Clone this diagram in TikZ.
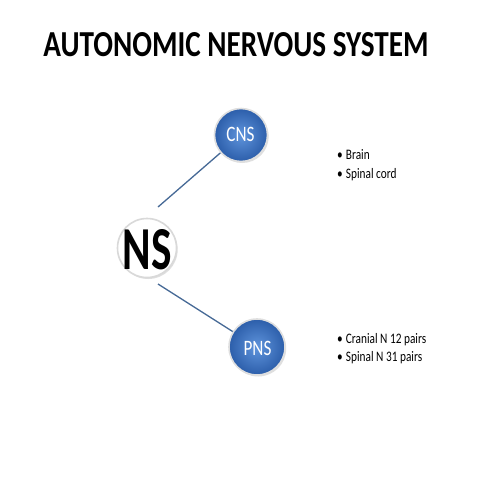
\documentclass[tikz,border=0pt]{standalone}
\usepackage{fontspec}
\setmainfont{Carlito}
\usetikzlibrary{shadows}
\definecolor{balllight}{RGB}{95,148,220}
\definecolor{balldark}{RGB}{44,94,170}
\definecolor{linkcol}{RGB}{70,105,150}
\newcommand{\condensed}[1]{\scalebox{0.78}[1]{#1}}
\tikzset{
  blueball/.style={circle, draw=gray!25, line width=1.6pt, inner sep=0pt,
    minimum size=#1, shading=radial, inner color=balllight, outer color=balldark,
    drop shadow={opacity=0.25, shadow xshift=1.2pt, shadow yshift=-1.5pt}},
  balllabel/.style={inner sep=0pt, text=white, font=\fontsize{22}{22}\selectfont},
  whiteball/.style={circle, draw=gray!30, line width=1.6pt, fill=white, inner sep=0pt,
    minimum size=#1, drop shadow={opacity=0.25, shadow xshift=1.2pt, shadow yshift=-1.5pt}},
  link/.style={draw=linkcol, line width=1.3pt},
  bullettext/.style={anchor=base west, inner sep=0pt, font=\fontsize{14.5}{14.5}\selectfont},
}
\begin{document}
\begin{tikzpicture}[x=1pt,y=-1pt]
\useasboundingbox (0,0) rectangle (480,480);
\fill[white] (0,0) rectangle (480,480);

\node[inner sep=0pt] (title) at (236,44.5) {\resizebox{385pt}{24pt}{\bfseries AUTONOMIC NERVOUS SYSTEM}};

\node[whiteball=59pt] (ns) at (147,248) {};
\node[inner sep=0pt] (nstext) at (147.5,250) {\resizebox{49pt}{40pt}{\bfseries NS}};

\node[blueball=53pt] (cns) at (241,135) {};
\node[balllabel] (cnstext) at (240.5,134.5) {\condensed{CNS}};
\node[blueball=56pt] (pns) at (257,347) {};
\node[balllabel] (pnstext) at (257.5,348) {\condensed{PNS}};

\coordinate (c1) at (158,207);
\coordinate (c2) at (158,284);
\draw[link] (c1) -- (cns);
\draw[link] (c2) -- (pns);

\node[bullettext] (b1) at (337,159.5) {\condensed{\textbullet\hspace{4pt}Brain}};
\node[bullettext] (b2) at (337,178) {\condensed{\textbullet\hspace{4pt}Spinal cord}};
\node[bullettext] (b3) at (337,343) {\condensed{\textbullet\hspace{4pt}Cranial N 12 pairs}};
\node[bullettext] (b4) at (337,361) {\condensed{\textbullet\hspace{4pt}Spinal N 31 pairs}};
\end{tikzpicture}
\end{document}
